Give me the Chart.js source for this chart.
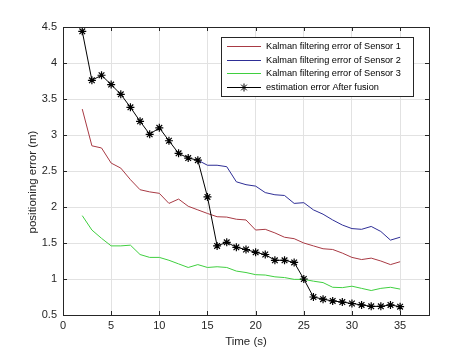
<!DOCTYPE html>
<html>
<head>
<meta charset="utf-8">
<script src="https://cdn.jsdelivr.net/npm/chart.js@4.4.1/dist/chart.umd.min.js"></script>
<style>
  html, body { margin: 0; padding: 0; background: #ffffff; }
  #wrap { width: 474px; height: 355px; position: relative; }
</style>
</head>
<body>
<div id="wrap"><canvas id="c" width="474" height="355"></canvas></div>
<script>
// ---- data ----
const timeSteps = [2,3,4,5,6,7,8,9,10,11,12,13,14,15,16,17,18,19,20,21,22,23,24,25,26,27,28,29,30,31,32,33,34,35];
const sensor2Time = [14,15,16,17,18,19,20,21,22,23,24,25,26,27,28,29,30,31,32,33,34,35];

const sensor1Error = [3.36,2.85,2.82,2.61,2.54,2.38,2.24,2.21,2.19,2.05,2.11,2.01,1.96,1.91,1.865,
                      1.86,1.83,1.82,1.68,1.69,1.64,1.58,1.56,1.50,1.46,1.42,1.41,1.36,1.30,1.27,1.29,1.25,1.20,1.24];
const sensor2Error = [2.65,2.58,2.58,2.56,2.35,2.31,2.29,2.20,2.17,2.16,2.05,2.06,1.96,1.90,1.82,1.75,1.70,1.69,1.73,1.66,1.54,1.58];
const sensor3Error = [1.88,1.68,1.565,1.46,1.46,1.47,1.34,1.30,1.30,1.26,1.21,1.16,1.20,1.16,1.17,1.16,
                      1.11,1.09,1.06,1.055,1.03,1.02,0.995,0.995,0.97,0.95,0.885,0.88,0.90,0.87,0.84,0.87,0.885,0.86];
const fusionError = [4.44,3.76,3.83,3.70,3.565,3.385,3.19,3.01,3.10,2.92,2.745,2.68,2.65,
                     2.14,1.46,1.51,1.44,1.41,1.37,1.34,1.26,1.26,1.23,
                     1.00,0.75,0.72,0.695,0.68,0.66,0.64,0.62,0.62,0.64,0.615];

const seriesLabels = ['Kalman filtering error of Sensor 1','Kalman filtering error of Sensor 2',
                      'Kalman filtering error of Sensor 3','estimation error After fusion'];
const xTitle = 'Time (s)';
const yTitle = 'positioning error (m)';

const FONT = '"Liberation Sans", Arial, Helvetica, sans-serif';
const pts = (xs, ys) => xs.map((x, i) => ({x: x, y: ys[i]}));

const frameColor = '#262626';

const framePlugin = {
  id: 'matlabFrame',
  afterDraw(chart) {
    const ctx = chart.ctx;
    const a = chart.chartArea;
    const xs = chart.scales.x, ys = chart.scales.y;
    ctx.save();
    // frame box
    ctx.strokeStyle = frameColor;
    ctx.lineWidth = 1;
    ctx.strokeRect(Math.round(a.left) + 0.5, Math.round(a.top) + 0.5,
                   Math.round(a.right - a.left), Math.round(a.bottom - a.top));
    // inward ticks
    const tl = 4;
    ctx.beginPath();
    xs.ticks.forEach(t => {
      const px = Math.round(xs.getPixelForValue(t.value)) + 0.5;
      ctx.moveTo(px, a.bottom); ctx.lineTo(px, a.bottom - tl);
      ctx.moveTo(px, a.top); ctx.lineTo(px, a.top + tl);
    });
    ys.ticks.forEach(t => {
      const py = Math.round(ys.getPixelForValue(t.value)) + 0.5;
      ctx.moveTo(a.left, py); ctx.lineTo(a.left + tl, py);
      ctx.moveTo(a.right, py); ctx.lineTo(a.right - tl, py);
    });
    ctx.stroke();

    // y axis title
    ctx.fillStyle = frameColor;
    ctx.font = '11.5px ' + FONT;
    ctx.textAlign = 'center';
    ctx.textBaseline = 'middle';
    ctx.translate(33, 182);
    ctx.rotate(-Math.PI / 2);
    ctx.fillText(yTitle, 0, 0);
    ctx.restore();

    // legend box
    ctx.save();
    const bx = 221, by = 37, bw = 192, bh = 59;
    ctx.fillStyle = '#ffffff';
    ctx.fillRect(bx, by, bw, bh);
    ctx.strokeStyle = frameColor;
    ctx.lineWidth = 1;
    ctx.strokeRect(bx + 0.5, by + 0.5, bw, bh);
    ctx.font = '9.2px ' + FONT;
    ctx.textAlign = 'left';
    ctx.textBaseline = 'middle';
    const rowY = [45.7, 59.5, 73.3, 87];
    const ds = chart.data.datasets;
    seriesLabels.forEach((lab, i) => {
      const d = ds.find(s => s.label === lab);
      const y = Math.round(rowY[i]) + 0.5;
      ctx.strokeStyle = d.borderColor;
      ctx.lineWidth = 1;
      ctx.beginPath();
      ctx.moveTo(227, y); ctx.lineTo(261, y);
      ctx.stroke();
      if (d.pointStyle === 'star') {
        const cx = 244, r = 4;
        ctx.beginPath();
        for (let k = 0; k < 4; k++) {
          const ang = k * Math.PI / 4;
          ctx.moveTo(cx - r * Math.cos(ang), y - r * Math.sin(ang));
          ctx.lineTo(cx + r * Math.cos(ang), y + r * Math.sin(ang));
        }
        ctx.stroke();
      }
      ctx.fillStyle = '#000000';
      ctx.fillText(lab, 266, y);
    });
    ctx.restore();
  }
};

new Chart(document.getElementById('c'), {
  type: 'line',
  data: {
    datasets: [
      { label: seriesLabels[0], data: pts(timeSteps, sensor1Error), borderColor: '#a83a44', borderWidth: 1,
        pointRadius: 0, order: 3, tension: 0 },
      { label: seriesLabels[1], data: pts(sensor2Time, sensor2Error), borderColor: '#2e2e96', borderWidth: 1,
        pointRadius: 0, order: 2, tension: 0 },
      { label: seriesLabels[2], data: pts(timeSteps, sensor3Error), borderColor: '#3fcf3f', borderWidth: 1,
        pointRadius: 0, order: 1, tension: 0 },
      { label: seriesLabels[3], data: pts(timeSteps, fusionError), borderColor: '#000000', borderWidth: 1,
        pointStyle: 'star', pointRadius: 4, pointBorderColor: '#000000', pointBackgroundColor: '#000000',
        pointBorderWidth: 1.2, order: 0, tension: 0 }
    ]
  },
  options: {
    responsive: false,
    animation: false,
    events: [],
    layout: { padding: { top: 27, right: 45, left: 0, bottom: 0 } },
    plugins: { legend: { display: false }, tooltip: { enabled: false } },
    scales: {
      x: {
        type: 'linear', min: 0, max: 38,
        afterFit(s) { s.height = 40; },
        ticks: { stepSize: 5, includeBounds: false, color: frameColor, padding: 4,
                 font: { family: FONT, size: 11 }, maxRotation: 0,
                 callback: v => String(v) },
        grid: { color: '#e2e2e2', drawTicks: false },
        border: { display: false },
        title: { display: true, text: xTitle, color: frameColor, font: { family: FONT, size: 11.5 },
                 padding: { top: 0, bottom: 6 } }
      },
      y: {
        type: 'linear', min: 0.5, max: 4.5,
        afterFit(s) { s.width = 63; },
        ticks: { stepSize: 0.5, color: frameColor, padding: 6, font: { family: FONT, size: 11 },
                 callback: v => String(Math.round(v * 10) / 10) },
        grid: { color: '#e2e2e2', drawTicks: false },
        border: { display: false }
      }
    }
  },
  plugins: [framePlugin]
});
</script>
</body>
</html>
